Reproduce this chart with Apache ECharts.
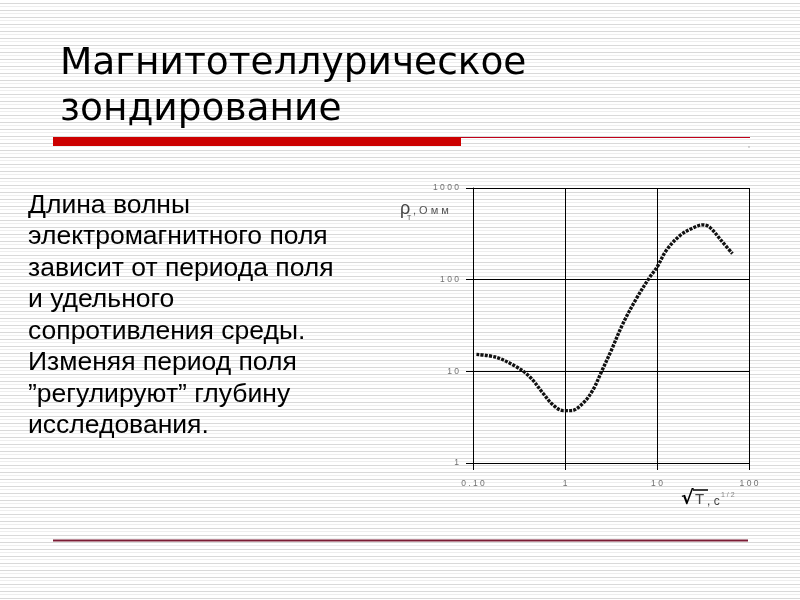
<!DOCTYPE html>
<html>
<head>
<meta charset="utf-8">
<script src="https://cdn.jsdelivr.net/npm/echarts@6/dist/echarts.min.js"></script>
<style>
  html, body { margin: 0; padding: 0; }
  body {
    width: 800px; height: 600px;
    background: repeating-linear-gradient(to bottom,
      #ffffff 0px, #ffffff 3px, #d9d9d9 3px, #d9d9d9 4px,
      #ffffff 4px, #ffffff 6px, #eeeeee 6px, #eeeeee 7px);
  }
  #chart { width: 800px; height: 600px; }
</style>
</head>
<body>
<div id="chart"></div>
<script>
// ---- data ----
const titleLines = ['Магнитотеллурическое', 'зондирование'];
const bodyLines = [
  'Длина волны',
  'электромагнитного поля',
  'зависит от периода поля',
  'и удельного',
  'сопротивления среды.',
  'Изменяя период поля',
  '”регулируют” глубину',
  'исследования.'
];
// sqrt(T), s^1/2
const periodSqrt = [0.109, 0.18, 0.296, 0.413, 0.577, 0.741, 0.951, 1.17, 1.57, 2.01, 2.49, 3.19, 4.27, 5.97, 8.32, 10, 12.6, 17.7, 24.6, 31.6, 37.4, 50, 66];
// apparent resistivity rho_T, Ohm*m
const rhoT = [15.3, 14.2, 11.2, 8.74, 5.77, 4.3, 3.73, 3.73, 4.49, 6.26, 9.9, 17.0, 33.3, 62.2, 106, 137, 208, 302, 367, 396, 373, 267, 192];
const xTickLabels = ['0.10', '1', '10', '100'];
const yTickLabels = ['1', '10', '100', '1000'];
const yAxisName = { sym: 'ρ', sub: 'T', unit: ', О м м' };
const xAxisName = { root: '√', sym: 'T', unit: ', с', sup: '1/2' };

const chart = echarts.init(document.getElementById('chart'), null, { renderer: 'canvas' });

const spaced = s => s.split('').join(' ');
const tickFmt = (labels, offset) => v => {
  const i = Math.round(Math.log10(v)) + offset;
  return labels[i] !== undefined ? spaced(labels[i]) : '';
};

const graphics = [];
titleLines.forEach((t, i) => {
  graphics.push({ type: 'text', left: 60, top: 46 * i + 45, style: {
    text: t, fill: '#000', font: '37.5px "DejaVu Sans"' } });
});
graphics.push({ type: 'rect', shape: { x: 53, y: 137, width: 408, height: 9 }, style: { fill: '#cc0000' } });
graphics.push({ type: 'line', shape: { x1: 461, y1: 137.5, x2: 750, y2: 137.5 }, style: { stroke: '#c0001a', lineWidth: 1 } });
graphics.push({ type: 'rect', shape: { x: 748.5, y: 146.5, width: 1, height: 1 }, style: { fill: '#666' } });
graphics.push({ type: 'line', shape: { x1: 53, y1: 540.5, x2: 748, y2: 540.5 }, style: { stroke: '#7b1c35', lineWidth: 2 } });
bodyLines.forEach((t, i) => {
  graphics.push({ type: 'text', x: 28, y: 205.5 + 31.5 * i, style: {
    text: t, fill: '#000', font: '26.5px "Liberation Sans"', verticalAlign: 'middle' } });
});
// y axis name
graphics.push({ type: 'text', x: 400, y: 209, style: { text: yAxisName.sym, fill: '#444', font: '18px "Liberation Sans"', verticalAlign: 'middle' } });
graphics.push({ type: 'text', x: 407, y: 218, style: { text: yAxisName.sub, fill: '#555', font: '7px "Liberation Sans"', verticalAlign: 'middle' } });
graphics.push({ type: 'text', x: 413, y: 211, style: { text: yAxisName.unit, fill: '#555', font: '11px "Liberation Sans"', verticalAlign: 'middle' } });
// x axis name
graphics.push({ type: 'text', x: 681, y: 499, style: { text: xAxisName.root, fill: '#000', font: 'bold 19px "DejaVu Sans"', verticalAlign: 'middle' } });
graphics.push({ type: 'line', shape: { x1: 693, y1: 490, x2: 708, y2: 490 }, style: { stroke: '#000', lineWidth: 1.5 } });
graphics.push({ type: 'text', x: 695, y: 500, style: { text: xAxisName.sym, fill: '#444', font: '15px "Liberation Sans"', verticalAlign: 'middle' } });
graphics.push({ type: 'text', x: 707, y: 502, style: { text: xAxisName.unit, fill: '#444', font: '12px "Liberation Sans"', verticalAlign: 'middle' } });
graphics.push({ type: 'text', x: 721, y: 495, style: { text: spaced(xAxisName.sup), fill: '#888', font: '7px "Liberation Sans"', verticalAlign: 'middle' } });

const axisCommon = {
  type: 'log', logBase: 10,
  axisLine: { show: true, lineStyle: { color: '#000', width: 1 } },
  axisTick: { show: true, length: 7, lineStyle: { color: '#000', width: 1 } },
  splitLine: { show: true, lineStyle: { color: '#000', width: 1 } },
  minorTick: { show: false }, minorSplitLine: { show: false }
};

chart.setOption({
  animation: false,
  backgroundColor: 'transparent',
  grid: { left: 473, top: 188, width: 276, height: 275, containLabel: false, show: false },
  xAxis: Object.assign({}, axisCommon, {
    min: 0.1, max: 100,
    axisLabel: { margin: 16, fontSize: 8.5, color: '#707070', fontFamily: 'Liberation Sans', formatter: tickFmt(xTickLabels, 1) }
  }),
  yAxis: Object.assign({}, axisCommon, {
    min: 1, max: 1000,
    axisLabel: { margin: 14, fontSize: 8.5, color: '#707070', fontFamily: 'Liberation Sans', formatter: tickFmt(yTickLabels, 0) }
  }),
  series: [{
    type: 'line',
    data: periodSqrt.map((x, i) => [x, rhoT[i]]),
    showSymbol: false,
    smooth: 0.35,
    lineStyle: { color: '#111', width: 3.4, type: [3, 1.2] }
  }],
  graphic: graphics
});
</script>
</body>
</html>
